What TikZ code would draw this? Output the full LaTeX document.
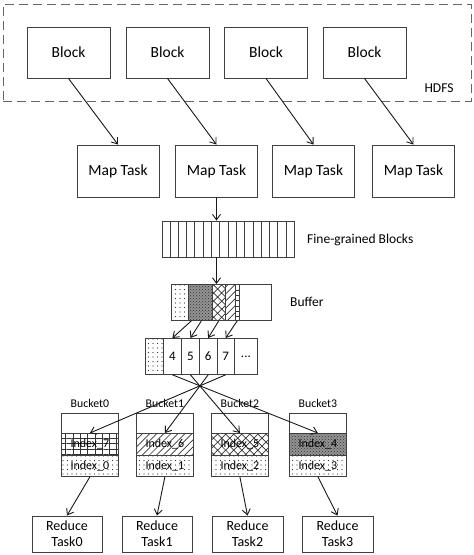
\documentclass[tikz,border=0pt]{standalone}
\usepackage{fontspec}
\setmainfont{Carlito}
\usetikzlibrary{arrows.meta,patterns,patterns.meta,calc}
\begin{document}
\begin{tikzpicture}[x=1pt,y=-1pt,
  box/.style={draw=black!75, line width=0.9pt, inner sep=0pt, minimum width=83pt, minimum height=51pt, font=\fontsize{15.5}{18}\selectfont},
  rbox/.style={draw=black!75, line width=0.9pt, inner sep=0pt, minimum width=70pt, minimum height=36pt, align=center, font=\fontsize{14}{16}\selectfont},
  cell/.style={draw=black!75, line width=0.8pt, inner sep=0pt, minimum height=36pt, anchor=north west, font=\fontsize{13}{15}\selectfont},
  bcell/.style={draw=black!75, line width=0.8pt, inner sep=0pt, minimum width=57pt, anchor=north west, font=\fontsize{12}{14}\selectfont},
  lab/.style={inner sep=0pt, font=\fontsize{13.5}{16}\selectfont},
  blab/.style={inner sep=0pt, font=\fontsize{11.8}{14}\selectfont},
  arr/.style={-{Straight Barb[length=5.5pt,width=8pt]}, line width=0.9pt, draw=black!90},
  pdots/.style={pattern={Dots[distance=4.5pt,radius=0.55pt]}, pattern color=black!80},
  pgray/.style={fill=gray!85, postaction={pattern=crosshatch dots, pattern color=black!80}},
  phatch/.style={pattern={Hatch[angle=45,distance=5.7pt,line width=0.7pt]}, pattern color=black!80},
  pne/.style={pattern={Lines[angle=45,distance=5pt,line width=0.7pt]}, pattern color=black!80},
  pgrid/.style={pattern={Lines[angle=0,distance=5.3pt,line width=0.7pt]}, pattern color=black!80,
                postaction={pattern={Lines[angle=90,distance=7.3pt,line width=0.7pt]}, pattern color=black!80}},
]
\useasboundingbox (0,0) rectangle (474,555);

% HDFS
\node[draw=black!60, line width=0.9pt, dash pattern=on 9pt off 5pt, minimum width=468pt, minimum height=97pt, inner sep=0pt] (hdfs) at (237,52.5) {};
\node[lab] (hdfslab) at (439,88) {HDFS};

% Blocks
\node[box] (b1) at (68.5,52.5) {Block};
\node[box] (b2) at (167.5,52.5) {Block};
\node[box] (b3) at (266,52.5) {Block};
\node[box] (b4) at (364.5,52.5) {Block};

% Map tasks
\node[box, minimum width=82pt, minimum height=52pt] (m1) at (118,171) {Map Task};
\node[box, minimum width=82pt, minimum height=52pt] (m2) at (216.5,171) {Map Task};
\node[box, minimum width=82pt, minimum height=52pt] (m3) at (313.5,171) {Map Task};
\node[box, minimum width=82pt, minimum height=52pt] (m4) at (413.5,171) {Map Task};

\foreach \i in {1,2,3,4} \draw[arr] (b\i.south) -- (m\i.north);

% Fine-grained blocks
\node[draw=black!75, line width=0.8pt, inner sep=0pt, minimum width=132pt, minimum height=36pt] (fg) at (228,239) {};
\foreach \i in {1,...,15}
  \draw[black!75, line width=0.8pt] ($(fg.south west)!\i/16!(fg.south east)$) -- ($(fg.north west)!\i/16!(fg.north east)$);
\node[lab, anchor=west] (fglab) at (307,240) {Fine-grained Blocks};

\draw[arr] (m2.south) -- (m2.south |- fg.north);

% Buffer
\node[cell, minimum width=17pt, pdots] (bp0) at (171,284) {};
\node[cell, minimum width=24pt, pgray] (bp4) at (188,284) {};
\node[cell, minimum width=13pt, phatch] (bp5) at (212,284) {};
\node[cell, minimum width=10pt, pne] (bp6) at (225,284) {};
\node[cell, minimum width=4pt, pgrid] (bp7) at (235,284) {};
\node[cell, minimum width=32pt] (bpw) at (239,284) {};
\node[lab, anchor=west] (buflab) at (290,302) {Buffer};

\draw[arr] (m2.south |- fg.south) -- (m2.south |- bp4.north);

% Second array
\node[cell, minimum width=18pt, pdots] (c0) at (145,338) {};
\node[cell, minimum width=18pt] (c4) at (163,338) {4};
\node[cell, minimum width=18pt] (c5) at (181,338) {5};
\node[cell, minimum width=17.5pt] (c6) at (199,338) {6};
\node[cell, minimum width=17.5pt] (c7) at (216.5,338) {7};
\node[cell, minimum width=23pt] (cd) at (234,338) {...};

\draw[arr] ([xshift=-9pt]bp4.south) -- (c4.north);
\draw[arr] ([xshift=1pt]bp4.south) -- (c5.north);
\draw[arr] (bp5.south) -- (c6.north);
\draw[arr] (bp7.south) -- (c7.north);

% Buckets
\foreach \k/\x/\pa/\ia/\ib in {0/61/pgrid/7/0, 1/136/pne/6/1, 2/211/phatch/5/2, 3/289/pgray/4/3}{
  \node[bcell, minimum height=20pt] (bk\k t) at (\x,413) {};
  \node[bcell, minimum height=22pt, \pa] (bk\k a) at (\x,433) {Index\_\ia};
  \node[bcell, minimum height=21pt, pdots] (bk\k b) at (\x,455) {Index\_\ib};
  \node[blab] (bl\k) at ($(bk\k t.north)+(0,-10)$) {Bucket\k};
}

\draw[arr] (c4.south) -- (bk3a.north);
\draw[arr] (c5.south) -- (bk2a.north);
\draw[arr] (c6.south) -- (bk1a.north);
\draw[arr] (c7.south) -- (bk0a.north);

% Reduce tasks
\node[rbox] (r0) at (67,534) {Reduce\\Task0};
\node[rbox] (r1) at (157,534) {Reduce\\Task1};
\node[rbox, minimum width=71pt] (r2) at (247.5,534) {Reduce\\Task2};
\node[rbox, minimum width=71pt] (r3) at (337.5,534) {Reduce\\Task3};

\foreach \k in {0,1,2,3} \draw[arr] (bk\k b.south) -- (r\k.north);
\end{tikzpicture}
\end{document}
